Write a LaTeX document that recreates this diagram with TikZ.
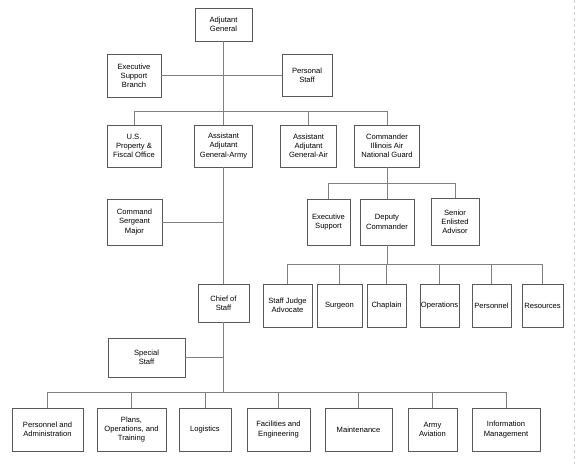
\documentclass[tikz,border=0pt]{standalone}
\usepackage{fontspec}
\setmainfont{Liberation Sans}
\usepackage{tikz}

\tikzset{
  unit/.style={draw=black!65, thin, align=center, inner sep=1pt,
    font=\fontsize{7.6}{9.2}\selectfont},
  link/.style={draw=black!50, thin}
}

\begin{document}
\begin{tikzpicture}[x=1pt, y=-1pt]
    % Frame of the page
    \useasboundingbox (0,0) rectangle (576,464);
    \draw[black!20, dashed] (574,0) -- (574,464);

    % Define bus heights
    \coordinate (bustop) at (0,111);
    \coordinate (busair) at (0,183);
    \coordinate (busdep) at (0,264);
    \coordinate (busbot) at (0,392);

    % Top of the chart
    \node[unit, minimum width=57, minimum height=33] (ag) at (223.5,24.5) {Adjutant\\General};
    \node[unit, minimum width=54, minimum height=43] (esb) at (134,75.5) {Executive\\Support\\Branch};
    \node[unit, minimum width=50, minimum height=42] (ps) at (307,75.5) {Personal\\Staff};

    % Second row
    \node[unit, minimum width=54, minimum height=42] (usp) at (134,146) {U.S.\\Property \&\\Fiscal Office};
    \node[unit, minimum width=58, minimum height=42] (aaga) at (223.5,146) {Assistant\\Adjutant\\General-Army};
    \node[unit, minimum width=56, minimum height=42] (aagair) at (308.5,146) {Assistant\\Adjutant\\General-Air};
    \node[unit, minimum width=65, minimum height=42] (cmd) at (387,146) {Commander\\Illinois Air\\National Guard};

    % Air National Guard branch
    \node[unit, minimum width=43, minimum height=46] (es) at (328.5,222) {Executive\\Support};
    \node[unit, minimum width=54, minimum height=46] (dc) at (387,222) {Deputy\\Commander};
    \node[unit, minimum width=48, minimum height=47] (sea) at (455,221.5) {Senior\\Enlisted\\Advisor};
    \node[unit, minimum width=49, minimum height=43] (sja) at (287.5,305.5) {Staff Judge\\Advocate};
    \node[unit, minimum width=45, minimum height=43] (surgeon) at (339.5,305.5) {Surgeon};
    \node[unit, minimum width=39, minimum height=43] (chaplain) at (386.5,305.5) {Chaplain};
    \node[unit, minimum width=39, minimum height=43] (operations) at (439.5,305.5) {Operations};
    \node[unit, minimum width=39, minimum height=43] (personnel) at (491.5,305.5) {Personnel};
    \node[unit, minimum width=41, minimum height=43] (resources) at (542.5,305.5) {Resources};

    % Army branch
    \node[unit, minimum width=55, minimum height=46] (csm) at (134.5,222) {Command\\Sergeant\\Major};
    \node[unit, minimum width=51, minimum height=38] (cos) at (223.5,303) {Chief of\\Staff};
    \node[unit, minimum width=77, minimum height=39] (ss) at (146.5,357.5) {Special\\Staff};

    % Bottom row
    \node[unit, minimum width=71, minimum height=43] (pa) at (47.5,429.5) {Personnel and\\Administration};
    \node[unit, minimum width=69, minimum height=43] (plans) at (131.5,429.5) {Plans,\\Operations, and\\Training};
    \node[unit, minimum width=52, minimum height=43] (log) at (205,429.5) {Logistics};
    \node[unit, minimum width=63, minimum height=43] (fac) at (278.5,429.5) {Facilities and\\Engineering};
    \node[unit, minimum width=67, minimum height=43] (maint) at (358.5,429.5) {Maintenance};
    \node[unit, minimum width=49, minimum height=43] (aviation) at (432.5,429.5) {Army\\Aviation};
    \node[unit, minimum width=68, minimum height=43] (im) at (506,429.5) {Information\\Management};

    % Main spine
    \draw[link] (ag.south) -- (aaga.north);
    \draw[link] (aaga.south) -- (cos.north);
    \draw[link] (cos.south) -- (cos.south |- busbot);
    \draw[link] (esb.east) -- (ps.west);
    \draw[link] (csm.east) -- (csm.east -| cos.north);
    \draw[link] (ss.east) -- (ss.east -| cos.south);

    % Second row bus
    \draw[link] (usp.north) -- (usp.north |- bustop) -| (cmd.north);
    \draw[link] (aagair.north) -- (aagair.north |- bustop);

    % Air National Guard buses
    \draw[link] (cmd.south) -- (dc.north);
    \draw[link] (es.north) -- (es.north |- busair) -| (sea.north);
    \draw[link] (dc.south) -- (dc.south |- busdep);
    \draw[link] (sja.north) -- (sja.north |- busdep) -| (resources.north);
    \foreach \n in {surgeon,chaplain,operations,personnel}
        \draw[link] (\n.north) -- (\n.north |- busdep);

    % Bottom bus
    \draw[link] (pa.north) -- (pa.north |- busbot) -| (im.north);
    \foreach \n in {plans,log,fac,maint,aviation}
        \draw[link] (\n.north) -- (\n.north |- busbot);

\end{tikzpicture}
\end{document}
